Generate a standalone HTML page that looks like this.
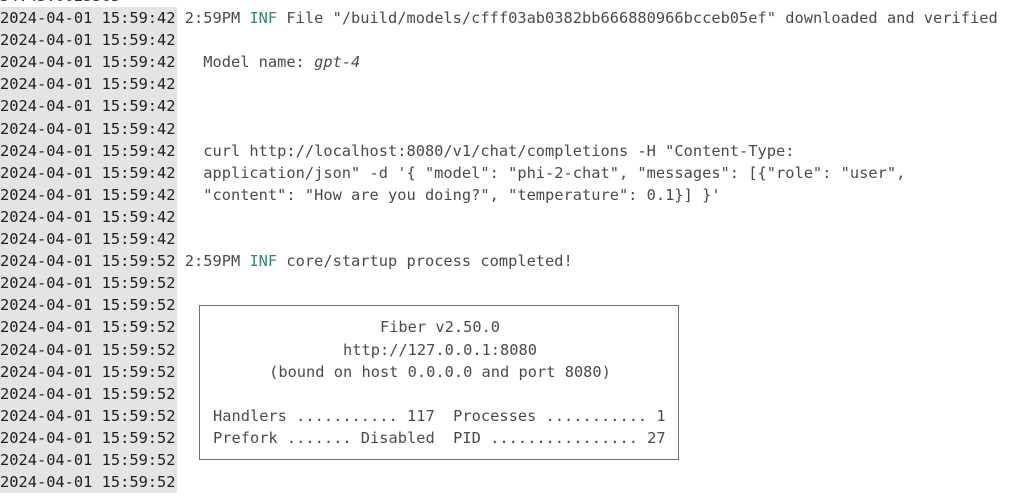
<!DOCTYPE html>
<html><head><meta charset="utf-8"><style>
html,body{margin:0;padding:0;background:#fff;width:1024px;height:502px;overflow:hidden;}
body{position:relative;font-family:"DejaVu Sans Mono","Liberation Mono",monospace;font-size:15.35px;color:#4a4a4a;}
.col{position:absolute;left:0;top:7px;width:177px;height:486px;background:#e4e4e7;}
.r{position:absolute;left:0;height:22px;line-height:22px;white-space:pre;}
.t{color:#1e1e1e;}
.i{color:#2a8a78;}
.box{position:absolute;left:199px;top:305px;width:480px;height:155px;border:1.5px solid #707070;box-sizing:border-box;}
.c{position:absolute;left:199px;width:482px;text-align:center;height:22px;line-height:22px;white-space:pre;}
</style></head><body>
<div class="col"></div>
<div class="r" style="top:-15px;color:#333">34:43:0025363</div>
<div class="r" style="top:7px"><span class="t">2024-04-01 15:59:42</span> 2:59PM <span class="i">INF</span> File "/build/models/cfff03ab0382bb666880966bcceb05ef" downloaded and verified</div>
<div class="r" style="top:29.1px"><span class="t">2024-04-01 15:59:42</span></div>
<div class="r" style="top:51.2px"><span class="t">2024-04-01 15:59:42</span>   Model name: <i>gpt-4</i></div>
<div class="r" style="top:73.3px"><span class="t">2024-04-01 15:59:42</span></div>
<div class="r" style="top:95.4px"><span class="t">2024-04-01 15:59:42</span></div>
<div class="r" style="top:117.5px"><span class="t">2024-04-01 15:59:42</span></div>
<div class="r" style="top:139.6px"><span class="t">2024-04-01 15:59:42</span>   curl http://localhost:8080/v1/chat/completions -H "Content-Type:</div>
<div class="r" style="top:161.7px"><span class="t">2024-04-01 15:59:42</span>   application/json" -d '{ "model": "phi-2-chat", "messages": [{"role": "user",</div>
<div class="r" style="top:183.8px"><span class="t">2024-04-01 15:59:42</span>   "content": "How are you doing?", "temperature": 0.1}] }'</div>
<div class="r" style="top:205.9px"><span class="t">2024-04-01 15:59:42</span></div>
<div class="r" style="top:228px"><span class="t">2024-04-01 15:59:42</span></div>
<div class="r" style="top:250.1px"><span class="t">2024-04-01 15:59:52</span> 2:59PM <span class="i">INF</span> core/startup process completed!</div>
<div class="r" style="top:272.2px"><span class="t">2024-04-01 15:59:52</span></div>
<div class="r" style="top:294.3px"><span class="t">2024-04-01 15:59:52</span></div>
<div class="r" style="top:316.4px"><span class="t">2024-04-01 15:59:52</span></div>
<div class="r" style="top:338.5px"><span class="t">2024-04-01 15:59:52</span></div>
<div class="r" style="top:360.6px"><span class="t">2024-04-01 15:59:52</span></div>
<div class="r" style="top:382.7px"><span class="t">2024-04-01 15:59:52</span></div>
<div class="r" style="top:404.8px"><span class="t">2024-04-01 15:59:52</span></div>
<div class="r" style="top:426.9px"><span class="t">2024-04-01 15:59:52</span></div>
<div class="r" style="top:449px"><span class="t">2024-04-01 15:59:52</span></div>
<div class="r" style="top:471.1px"><span class="t">2024-04-01 15:59:52</span></div>
<div class="box"></div>
<div class="c" style="top:316.4px">Fiber v2.50.0</div>
<div class="c" style="top:338.5px">http://127.0.0.1:8080</div>
<div class="c" style="top:360.6px">(bound on host 0.0.0.0 and port 8080)</div>
<div class="r" style="top:404.8px;left:213px">Handlers ........... 117  Processes ........... 1</div>
<div class="r" style="top:426.9px;left:213px">Prefork ....... Disabled  PID ................ 27</div>
</body></html>
